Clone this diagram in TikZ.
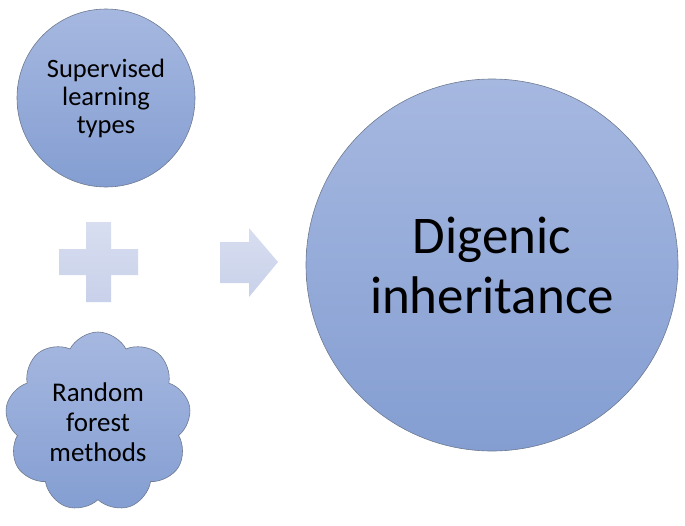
\documentclass[tikz,border=0pt]{standalone}
\usepackage{fontspec}
\setmainfont{Carlito}
\usetikzlibrary{shapes.symbols}
\definecolor{ctop}{HTML}{A6B8E0}
\definecolor{cbot}{HTML}{849ED2}
\definecolor{ltop}{HTML}{D8DEF0}
\definecolor{lbot}{HTML}{C8D1EA}
\definecolor{edgec}{HTML}{6E7A90}
\tikzset{
  bubble/.style={circle, draw=edgec, line width=0.6pt, top color=ctop, bottom color=cbot, inner sep=0pt, align=center, text=black},
  puff/.style={cloud, cloud puffs=9, cloud puff arc=125, aspect=1.03, draw=edgec, line width=0.6pt, top color=ctop, bottom color=cbot, inner sep=0pt, align=center, text=black},
  sym/.style={top color=ltop, bottom color=lbot, draw=none}
}
\begin{document}
\begin{tikzpicture}[x=1pt,y=-1pt]
\useasboundingbox (0,0) rectangle (685,525);
% small circle
\node[bubble, minimum size=178pt, font=\fontsize{26.5}{28}\selectfont] (sup) at (106,98) {Supervised\\learning\\types};
% cloud
\node[puff, minimum width=186pt, minimum height=180pt, font=\fontsize{27}{30}\selectfont] (rf) at (98,422) {Random\\forest\\methods};
% big circle
\node[bubble, minimum size=372pt, font=\fontsize{53}{60}\selectfont] (dig) at (492,265) {Digenic\\inheritance};
% plus sign
\path[sym] (86,222) -- (111,222) -- (111,249) -- (138,249) -- (138,275) -- (111,275) -- (111,302) -- (86,302) -- (86,275) -- (59,275) -- (59,249) -- (86,249) -- cycle;
% arrow
\path[sym] (220,242) -- (249,242) -- (249,228) -- (278,262) -- (249,297) -- (249,283) -- (220,283) -- cycle;
\end{tikzpicture}
\end{document}
